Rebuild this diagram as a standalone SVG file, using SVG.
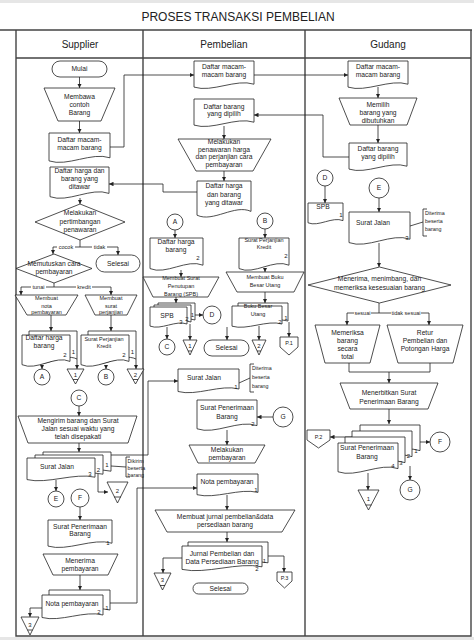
<svg xmlns="http://www.w3.org/2000/svg" width="474" height="640" viewBox="0 0 474 640">
<defs>
<marker id="ah" viewBox="0 0 6 6" refX="6" refY="3" markerWidth="4.5" markerHeight="4.5" markerUnits="userSpaceOnUse" orient="auto"><path d="M0,0 L6,3 L0,6 z" fill="#222"/></marker>
<style>
.s{fill:#fff;stroke:#222;stroke-width:0.8}
.l{fill:none;stroke:#222;stroke-width:0.8}
.a{fill:none;stroke:#222;stroke-width:0.8;marker-end:url(#ah)}
.f{fill:none;stroke:#444;stroke-width:1.4}
text{font-family:"Liberation Sans",Arial,sans-serif;fill:#222;text-anchor:middle;font-size:6.7px}
.ts{font-size:5.5px}
.ta{font-size:5.3px;text-anchor:start}
.n{font-size:6px}
.h{font-size:10px}
.ti{font-size:12px}
.lb{fill:#fff;stroke:none}
</style>
</defs>
<rect x="0" y="0" width="474" height="640" fill="#e6e6e6"/>
<rect x="0" y="3" width="474" height="634" fill="#fff"/>
<g id="frame">
<path class="f" d="M0,30 H472 M16,58 H471 M16,30 V636 H471 V30 M143,30 V636 M305,30 V636"/>
<text class="ti" x="238" y="21">PROSES TRANSAKSI PEMBELIAN</text>
<text class="h" x="80" y="47.5">Supplier</text>
<text class="h" x="224" y="47.5">Pembelian</text>
<text class="h" x="388" y="47.5">Gudang</text>
</g>
<g id="connectors">
<path class="a" d="M79.5,77 V88"/>
<path class="a" d="M79.5,121 V133"/>
<path class="a" d="M110,147 H124 V75 H194"/>
<path class="a" d="M254,75 H348"/>
<path class="a" d="M378,87 V98"/>
<path class="a" d="M378,125 V143"/>
<path class="a" d="M349,157 H323 V115 H254"/>
<path class="a" d="M224,126 V139"/>
<path class="a" d="M224,171 V181"/>
<path class="a" d="M197,192 H163 V184 H109"/>
<path class="a" d="M80,198 V204"/>
<path class="l" d="M80,240 V247 M53,247 H118"/>
<path class="a" d="M53,247 V254"/>
<path class="a" d="M118,247 V255"/>
<path class="l" d="M54,283 V287 M21,287 H111"/>
<path class="a" d="M21,287 V295"/>
<path class="a" d="M111,287 V295"/>
<path class="a" d="M51,315 V331"/>
<path class="a" d="M111,315 V331"/>
<path class="a" d="M42,366 V369"/>
<path class="a" d="M77,359 V369"/>
<path class="a" d="M106,366 V369"/>
<path class="a" d="M136,359 V369"/>
<path class="a" d="M79,406 V416"/>
<path class="a" d="M79,443 V452"/>
<path class="a" d="M111,455 H148 V381 H178"/>
<path class="l" d="M111,466 L126,467"/>
<path class="a" d="M56,480 V491"/>
<path class="a" d="M98,474 V492 H108"/>
<path class="a" d="M80,507 V520"/>
<path class="a" d="M80,575 V590"/>
<path class="a" d="M42,608 H30 V617"/>
<path class="a" d="M110,603 H137 V488 H197"/>
<path class="a" d="M175,230 V238"/>
<path class="a" d="M181,270 V277"/>
<path class="a" d="M176,297 V303"/>
<path class="a" d="M195,315 H203"/>
<path class="a" d="M167,327 V339"/>
<path class="a" d="M190,324 V340"/>
<path class="a" d="M265,229 V238"/>
<path class="a" d="M265,268 V272"/>
<path class="a" d="M265,292 V303"/>
<path class="a" d="M227,327 V340"/>
<path class="a" d="M259,326 V340"/>
<path class="a" d="M289,322 V337"/>
<path class="l" d="M239,383 L250,378"/>
<path class="a" d="M273,417 H257"/>
<path class="a" d="M227,430 V445"/>
<path class="a" d="M227,495 V510"/>
<path class="a" d="M227,532 V542"/>
<path class="a" d="M182,558 H163 V573"/>
<path class="a" d="M268,556 H284 V572"/>
<path class="a" d="M325,186 V203"/>
<path class="a" d="M379,198 V212"/>
<path class="l" d="M410,226 L423,222"/>
<path class="a" d="M379,243 V267"/>
<path class="l" d="M379,303 V313 M347,313 H429"/>
<path class="a" d="M347,313 V325"/>
<path class="a" d="M429,313 V325"/>
<path class="l" d="M349,363 V372 H430 V363"/>
<path class="a" d="M389,372 V383"/>
<path class="a" d="M389,409 V424"/>
<path class="a" d="M352,437 H330"/>
<path class="a" d="M420,442 H430"/>
<path class="a" d="M410,466 V480"/>
<path class="a" d="M368,473 V490"/>
<rect class="lb" x="57" y="244" width="18" height="6"/>
<text class="ts" x="66" y="249">cocok</text>
<rect class="lb" x="92" y="244" width="15" height="6"/>
<text class="ts" x="99.5" y="249">tidak</text>
<rect class="lb" x="31" y="284" width="15" height="6"/>
<text class="ts" x="38.5" y="289">tunai</text>
<rect class="lb" x="76" y="284" width="16" height="6"/>
<text class="ts" x="84" y="289">kredit</text>
<rect class="lb" x="354" y="310" width="17" height="6"/>
<text class="ts" x="362.5" y="315">sesuai</text>
<rect class="lb" x="391" y="310" width="30" height="6"/>
<text class="ts" x="406" y="315">tidak sesuai</text>
</g>
<g id="mulai"><rect class="s" x="52" y="61" width="55" height="16" rx="8"/><text x="79.5" y="71.4">Mulai</text></g>
<g id="membawa"><path class="s" d="M44,88 H115 L101,121 H58 Z"/><text x="79.5" y="99">Membawa</text><text x="79.5" y="107">contoh</text><text x="79.5" y="115">Barang</text></g>
<g id="s-daftar-macam"><path class="s" d="M49,133h61v24.8c-18.3,-6.2 -42.7,9.3 -61,3.1z"/><text x="79.5" y="141.5">Daftar macam-</text><text x="79.5" y="149.5">macam barang</text></g>
<g id="p-daftar-macam"><path class="s" d="M194,61h60v23.2c-18,-5.8 -42,8.7 -60,2.9z"/><text x="224" y="69.4">Daftar macam-</text><text x="224" y="77.4">macam barang</text></g>
<g id="g-daftar-macam"><path class="s" d="M348,61h60v23.2c-18,-5.8 -42,8.7 -60,2.9z"/><text x="378" y="69.4">Daftar macam-</text><text x="378" y="77.4">macam barang</text></g>
<g id="g-memilih"><path class="s" d="M339,98 H417 L407,125 H350 Z"/><text x="378" y="107.4">Memilih</text><text x="378" y="115.4">barang yang</text><text x="378" y="123.4">dibutuhkan</text></g>
<g id="g-daftar-dipilih"><path class="s" d="M349,143h58v23.2c-17.4,-5.8 -40.6,8.7 -58,2.9z"/><text x="378" y="151.4">Daftar barang</text><text x="378" y="159.4">yang dipilih</text></g>
<g id="p-daftar-dipilih"><path class="s" d="M194,99h60v23.2c-18,-5.8 -42,8.7 -60,2.9z"/><text x="224" y="109.4">Daftar barang</text><text x="224" y="116.4">yang dipilih</text></g>
<g id="p-penawaran"><path class="s" d="M178,139 H271 L253,171 H196 Z"/><text x="224" y="144.4">Melakukan</text><text x="224" y="151.9">penawaran harga</text><text x="224" y="159.4">dan perjanjian cara</text><text x="224" y="166.9">pembayaran</text></g>
<g id="p-daftar-harga-ditawar"><path class="s" d="M197,181h54v30.4c-16.2,-7.6 -37.8,11.4 -54,3.8z"/><text x="224" y="188.4">Daftar harga</text><text x="224" y="196.9">dan barang</text><text x="224" y="205.4">yang ditawar</text></g>
<g id="s-daftar-harga-ditawar"><path class="s" d="M50,167h59v26.4c-17.7,-6.6 -41.3,9.9 -59,3.3z"/><text x="79.5" y="173.4">Daftar harga dan</text><text x="79.5" y="181.4">barang yang</text><text x="79.5" y="189.4">ditawar</text></g>
<g id="s-pertimbangan"><path class="s" d="M80,204 L125,222 L80,240 L35,222 Z"/><text x="80" y="215.4">Melakukan</text><text x="80" y="223.9">pertimbangan</text><text x="80" y="232.4">penawaran</text></g>
<g id="s-selesai"><rect class="s" x="96" y="255" width="44" height="17" rx="8.5"/><text x="118" y="265.9">Selesai</text></g>
<g id="s-memutuskan"><path class="s" d="M54,254 L92,268.5 L54,283 L16,268.5 Z"/><text x="54" y="266.4">Memutuskan cara</text><text x="54" y="274.4">pembayaran</text></g>
<g id="s-nota-trap"><path class="s" d="M15,295 H78 L66,315 H27 Z"/><text class="ts" x="46.5" y="300">Membuat</text><text class="ts" x="46.5" y="307.5">nota</text><text class="ts" x="46.5" y="314">pembayaran</text></g>
<g id="s-surat-trap"><path class="s" d="M85,295 H137 L127,315 H95 Z"/><text class="ts" x="111" y="300">Membuat</text><text class="ts" x="111" y="307.5">surat</text><text class="ts" x="111" y="314">perjanjian</text></g>
<g id="s-daftar-harga-stack"><path class="s" d="M29,331h48v28c-14.4,-7 -33.6,10.5 -48,3.5z"/><path class="s" d="M22,335h48v26.4c-14.4,-6.6 -33.6,9.9 -48,3.3z"/><text x="44" y="340.4">Daftar harga</text><text x="44" y="348.4">barang</text><text class="n" x="65" y="357">2</text><text class="n" x="73.5" y="354">1</text></g>
<g id="s-perjanjian-stack"><path class="s" d="M88,331h48v28c-14.4,-7 -33.6,10.5 -48,3.5z"/><path class="s" d="M81,335h48v26.4c-14.4,-6.6 -33.6,9.9 -48,3.3z"/><text class="ts" x="104" y="341">Surat Perjanjian</text><text class="ts" x="104" y="348">Kredit</text><text class="n" x="124" y="357">2</text><text class="n" x="132.5" y="354">1</text></g>
<g id="s-a"><circle class="s" cx="42" cy="377" r="8"/><text x="42" y="379.4">A</text></g>
<g id="s-tri1"><path class="s" d="M67,369 H84 L75.5,384 Z"/><path class="l" d="M73,379.5 H78"/><text class="n" x="75.5" y="377">1</text></g>
<g id="s-b"><circle class="s" cx="106" cy="377" r="8"/><text x="106" y="379.4">B</text></g>
<g id="s-tri2"><path class="s" d="M127,369 H144 L135.5,384 Z"/><path class="l" d="M133,379.5 H138"/><text class="n" x="135.5" y="377">2</text></g>
<g id="s-c"><circle class="s" cx="79" cy="398" r="8"/><text x="79" y="400.4">C</text></g>
<g id="s-mengirim"><path class="s" d="M18,416 H137 L128,443 H28 Z"/><text x="78" y="423.4">Mengirim barang dan Surat</text><text x="78" y="431.4">Jalan sesuai waktu yang</text><text x="78" y="439.4">telah disepakati</text></g>
<g id="s-surat-jalan-stack"><path class="s" d="M43,452h68v19.2c-20.4,-4.8 -47.6,7.2 -68,2.4z"/><path class="s" d="M35,455h68v19.2c-20.4,-4.8 -47.6,7.2 -68,2.4z"/><path class="s" d="M27,458h68v19.2c-20.4,-4.8 -47.6,7.2 -68,2.4z"/><text x="57" y="469.4">Surat Jalan</text><text class="n" x="90" y="476">3</text><text class="n" x="98.5" y="472">2</text><text class="n" x="107" y="467">1</text></g>
<g id="s-dikirim"><path class="l" d="M130,457 H126 V477 H130"/><text class="ta" x="127.5" y="462.5">Dikirim</text><text class="ta" x="127.5" y="469.5">beserta</text><text class="ta" x="127.5" y="476.5">barang</text></g>
<g id="s-e"><circle class="s" cx="56" cy="499" r="8"/><text x="56" y="501.4">E</text></g>
<g id="s-f"><circle class="s" cx="80" cy="498" r="9"/><text x="80" y="500.4">F</text></g>
<g id="s-tri2b"><path class="s" d="M107,482 H128 L117.5,503 Z"/><path class="l" d="M114,497 H121"/><text class="n" x="117.5" y="493">2</text></g>
<g id="s-spb-doc"><path class="s" d="M48,520h64v23.2c-19.2,-5.8 -44.8,8.7 -64,2.9z"/><text x="80" y="529.4">Surat Penerimaan</text><text x="80" y="536.4">Barang</text><text class="n" x="108" y="545">1</text></g>
<g id="s-menerima"><path class="s" d="M43,554 H118 L108,575 H53 Z"/><text x="80" y="563.4">Menerima</text><text x="80" y="571.4">pembayaran</text></g>
<g id="s-nota-stack"><path class="s" d="M49,590h61v20c-18.3,-5 -42.7,7.5 -61,2.5z"/><path class="s" d="M42,595h61v20c-18.3,-5 -42.7,7.5 -61,2.5z"/><text x="72" y="606.4">Nota pembayaran</text><text class="n" x="99" y="614">2</text><text class="n" x="107" y="610">1</text></g>
<g id="s-tri3"><path class="s" d="M21,617 H39 L30,635 Z"/><path class="l" d="M27.5,630 H32.5"/><text class="n" x="30" y="627">3</text></g>
<g id="p-a"><circle class="s" cx="175" cy="222" r="8"/><text x="175" y="224.4">A</text></g>
<g id="p-b"><circle class="s" cx="265" cy="221" r="8"/><text x="265" y="223.4">B</text></g>
<g id="p-daftar-harga"><path class="s" d="M150,238h53v27.2c-15.9,-6.8 -37.1,10.2 -53,3.4z"/><text x="176" y="244.4">Daftar harga</text><text x="176" y="252.4">barang</text><text class="n" x="198" y="260">2</text></g>
<g id="p-spb-trap"><path class="s" d="M143,277 H219 L208,297 H153 Z"/><text class="ts" x="181" y="280">Membuat Surat</text><text class="ts" x="181" y="288">Penutupan</text><text class="ts" x="181" y="296">Barang (SPB)</text></g>
<g id="p-spb-stack"><path class="s" d="M158,303h37v17c-11.1,-4.2 -25.9,6.4 -37,2.1z"/><path class="s" d="M154,305h37v17c-11.1,-4.2 -25.9,6.4 -37,2.1z"/><path class="s" d="M150,307h37v17c-11.1,-4.2 -25.9,6.4 -37,2.1z"/><text x="167" y="318">SPB</text><text class="n" x="181" y="324">3</text><text class="n" x="187" y="321">2</text><text class="n" x="192.5" y="317">1</text></g>
<g id="p-d"><circle class="s" cx="212" cy="315" r="9"/><text x="212" y="317.4">D</text></g>
<g id="p-c"><circle class="s" cx="167" cy="347" r="8"/><text x="167" y="349.4">C</text></g>
<g id="p-tri1"><path class="s" d="M183,340 H197 L190,355 Z"/><path class="l" d="M188,351 H192"/><text class="n" x="190" y="348">1</text></g>
<g id="p-perjanjian"><path class="s" d="M239,238h50v27.2c-15,-6.8 -35,10.2 -50,3.4z"/><text class="ts" x="264" y="242">Surat Perjanjian</text><text class="ts" x="264" y="249">Kredit</text><text class="n" x="286" y="258">2</text></g>
<g id="p-bb-trap"><path class="s" d="M226,272 H304 L294,292 H237 Z"/><text class="ts" x="265" y="279">Membuat Buku</text><text class="ts" x="265" y="287">Besar Utang</text></g>
<g id="p-bb-stack"><path class="s" d="M238,303h50v18c-15,-4.4 -35,6.6 -50,2.2z"/><path class="s" d="M232,306h50v18c-15,-4.4 -35,6.6 -50,2.2z"/><text class="ts" x="258" y="308">Buku Besar</text><text class="ts" x="258" y="316">Utang</text><text class="n" x="280" y="324">2</text><text class="n" x="286" y="320">1</text></g>
<g id="p-selesai"><rect class="s" x="204" y="340" width="45" height="16" rx="8"/><text x="226.5" y="350.4">Selesai</text></g>
<g id="p-tri2"><path class="s" d="M252,340 H266 L259,355 Z"/><path class="l" d="M257,351 H261"/><text class="n" x="259" y="348">2</text></g>
<g id="p-p1"><path class="s" d="M280,337 H298 V347 L289,355 L280,347 Z"/><text class="ts" x="289" y="345">P.1</text></g>
<g id="p-surat-jalan"><path class="s" d="M178,369h61v20c-18.3,-5 -42.7,7.5 -61,2.5z"/><text x="204" y="380.4">Surat Jalan</text><text class="n" x="236" y="389">1</text></g>
<g id="p-diterima"><path class="l" d="M254,364 H250 V392 H254"/><text class="ta" x="252" y="370">Diterima</text><text class="ta" x="252" y="379">beserta</text><text class="ta" x="252" y="388">barang</text></g>
<g id="p-spb-doc"><path class="s" d="M197,400h60v25.6c-18,-6.4 -42,9.6 -60,3.2z"/><text x="227" y="410.4">Surat Penerimaan</text><text x="227" y="419.4">Barang</text><text class="n" x="253" y="426">2</text></g>
<g id="p-g"><circle class="s" cx="283" cy="417" r="10"/><text x="283" y="419.4">G</text></g>
<g id="p-melakukan-bayar"><path class="s" d="M189,445 H265 L255,463 H198 Z"/><text x="227" y="452.4">Melakukan</text><text x="227" y="460.4">pembayaran</text></g>
<g id="p-nota"><path class="s" d="M197,474h61v18.4c-18.3,-4.6 -42.7,6.9 -61,2.3z"/><text x="227" y="484.4">Nota pembayaran</text><text class="n" x="256" y="492">1</text></g>
<g id="p-jurnal-trap"><path class="s" d="M155,510 H295 L282,532 H167 Z"/><text x="225" y="519.4">Membuat jurnal pembelian&amp;data</text><text x="225" y="527.4">persediaan barang</text></g>
<g id="p-jurnal-stack"><path class="s" d="M188,542h80v20.8c-24,-5.2 -56,7.8 -80,2.6z"/><path class="s" d="M182,546h80v20.8c-24,-5.2 -56,7.8 -80,2.6z"/><text x="222" y="556.4">Jurnal Pembelian dan</text><text x="222" y="564.4">Data Persediaan Barang</text><text class="n" x="257" y="571">2</text><text class="n" x="264.5" y="563">1</text></g>
<g id="p-tri3"><path class="s" d="M154,573 H171 L162.5,590 Z"/><path class="l" d="M160,585.5 H165"/><text class="n" x="162.5" y="582">3</text></g>
<g id="p-p3"><path class="s" d="M277,572 H292 V581 L284.5,588 L277,581 Z"/><text class="ts" x="284.5" y="580">P.3</text></g>
<g id="p-selesai2"><rect class="s" x="193" y="583" width="55" height="11" rx="5.5"/><text x="220.5" y="590.7">Selesai</text></g>
<g id="g-d"><circle class="s" cx="325" cy="178" r="8"/><text x="325" y="180.4">D</text></g>
<g id="g-spb"><path class="s" d="M308,203h35v17.6c-10.5,-4.4 -24.5,6.6 -35,2.2z"/><text x="323" y="209">SPB</text><text class="n" x="341" y="217">1</text></g>
<g id="g-e"><circle class="s" cx="379" cy="188" r="10"/><text x="379" y="190.4">E</text></g>
<g id="g-surat-jalan"><path class="s" d="M349,212h61v27.2c-18.3,-6.8 -42.7,10.2 -61,3.4z"/><text x="373" y="225.4">Surat Jalan</text><text class="n" x="407" y="240">3</text></g>
<g id="g-diterima"><path class="l" d="M427,209 H423 V236 H427"/><text class="ta" x="425" y="215">Diterima</text><text class="ta" x="425" y="223">beserta</text><text class="ta" x="425" y="231">barang</text></g>
<g id="g-menimbang"><path class="s" d="M379.5,267 L451,285 L379.5,303 L308,285 Z"/><text x="379.5" y="281.4">Menerima, menimbang, dan</text><text x="379.5" y="290.4">memeriksa kesesuaian barang</text></g>
<g id="g-memeriksa"><path class="s" d="M315,325 H380 L370,363 H325 Z"/><text x="347.5" y="335.4">Memeriksa</text><text x="347.5" y="343.4">barang</text><text x="347.5" y="351.4">secara</text><text x="347.5" y="359.4">total</text></g>
<g id="g-retur"><path class="s" d="M387,325 H463 L453,363 H398 Z"/><text x="425" y="335.4">Retur</text><text x="425" y="343.4">Pembelian dan</text><text x="425" y="351.4">Potongan Harga</text></g>
<g id="g-menerbitkan"><path class="s" d="M340,383 H438 L428,409 H350 Z"/><text x="389" y="395.4">Menerbitkan Surat</text><text x="389" y="404.4">Penerimaan Barang</text></g>
<g id="g-spb-stack"><path class="s" d="M360,425h60v25.6c-18,-6.4 -42,9.6 -60,3.2z"/><path class="s" d="M352,431h60v25.6c-18,-6.4 -42,9.6 -60,3.2z"/><path class="s" d="M345,437h60v25.6c-18,-6.4 -42,9.6 -60,3.2z"/><path class="s" d="M338,443h60v25.6c-18,-6.4 -42,9.6 -60,3.2z"/><text x="367" y="450.4">Surat Penerimaan</text><text x="367" y="459.4">Barang</text><text class="n" x="393" y="468">4</text><text class="n" x="401" y="465">3</text><text class="n" x="408.5" y="458">2</text><text class="n" x="416" y="453">1</text></g>
<g id="g-p2"><path class="s" d="M307,430 H330 V440 L318.5,448 L307,440 Z"/><text class="ts" x="318.5" y="439">P.2</text></g>
<g id="g-f"><circle class="s" cx="440" cy="442" r="10"/><text x="440" y="444.4">F</text></g>
<g id="g-g"><circle class="s" cx="410" cy="490" r="10"/><text x="410" y="492.4">G</text></g>
<g id="g-tri1"><path class="s" d="M358,490 H379 L368.5,510 Z"/><path class="l" d="M365.5,505 H371.5"/><text class="n" x="368.5" y="501">1</text></g>
</svg>
